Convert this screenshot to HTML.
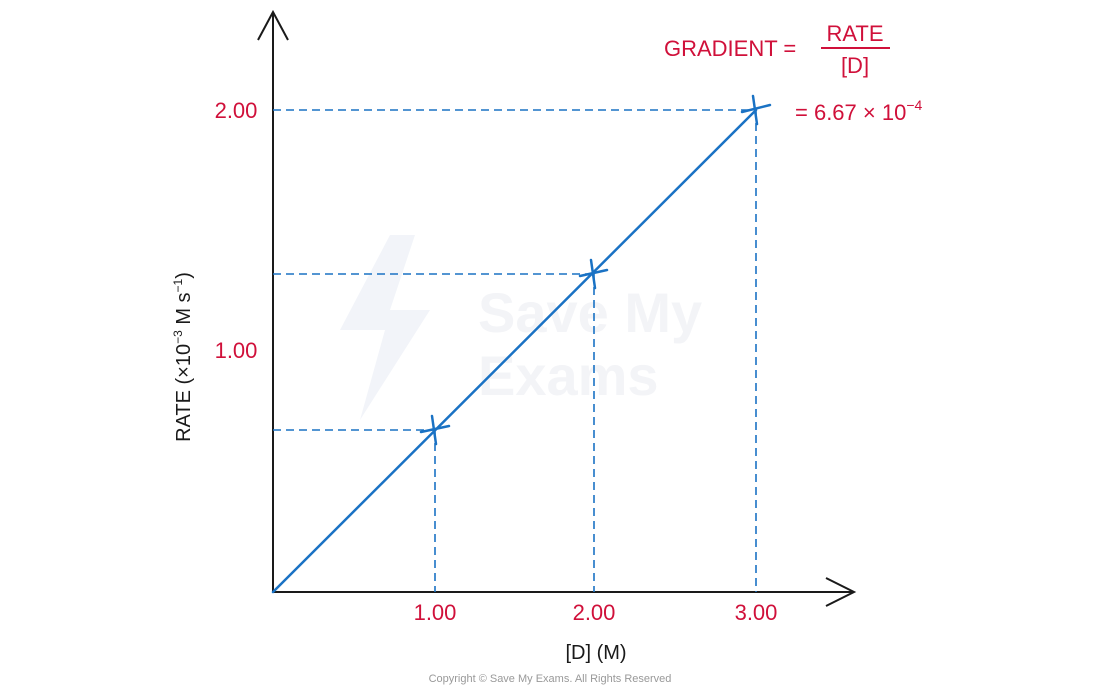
<!DOCTYPE html>
<html><head><style>
body{margin:0;background:#fff;width:1100px;height:689px;overflow:hidden}
svg{display:block}
text{font-family:"Liberation Sans",sans-serif}
</style></head><body>
<svg width="1100" height="689" viewBox="0 0 1100 689">
<g fill="#f3f4f7" font-size="56" font-weight="bold">
<text x="478" y="332">Save My</text><text x="478" y="395">Exams</text>
</g>
<polygon points="390,235 340,330 385,330 360,420 430,310 390,310 415,235" fill="#f2f4f9"/>
<g stroke="#1a1a1a" stroke-width="2" fill="none">
<line x1="273" y1="592" x2="273" y2="14"/>
<polyline points="258,40 273,12 288,40"/>
<line x1="273" y1="592" x2="852" y2="592"/>
<polyline points="826,578 854,592 826,606"/>
</g>
<g stroke="#1a72c4" stroke-width="1.6" stroke-dasharray="8,5" fill="none">
<line x1="273" y1="110" x2="756" y2="110"/>
<line x1="273" y1="274" x2="594" y2="274"/>
<line x1="273" y1="430" x2="435" y2="430"/>
<line x1="756" y1="110" x2="756" y2="592"/>
<line x1="594" y1="274" x2="594" y2="592"/>
<line x1="435" y1="430" x2="435" y2="592"/>
</g>
<g stroke="#1a72c4" stroke-width="2.5" fill="none" stroke-linecap="round">
<line x1="273" y1="592" x2="756" y2="110"/>
<line x1="742" y1="112" x2="770" y2="105"/><line x1="753" y1="96" x2="757" y2="124"/>
<line x1="580" y1="276" x2="607" y2="270"/><line x1="591" y1="260" x2="595" y2="288"/>
<line x1="421" y1="432" x2="449" y2="426"/><line x1="432" y1="416" x2="436" y2="444"/>
</g>
<g fill="#d0103a" font-size="22">
<text x="236" y="118" text-anchor="middle">2.00</text>
<text x="236" y="358" text-anchor="middle">1.00</text>
<text x="435" y="620" text-anchor="middle">1.00</text>
<text x="594" y="620" text-anchor="middle">2.00</text>
<text x="756" y="620" text-anchor="middle">3.00</text>
<text x="664" y="56">GRADIENT =</text>
<text x="855" y="41" text-anchor="middle">RATE</text>
<text x="855" y="73" text-anchor="middle">[D]</text>
<text x="795" y="120">= 6.67 × 10<tspan font-size="14" dy="-10">−4</tspan></text>
</g>
<line x1="821" y1="48" x2="890" y2="48" stroke="#d0103a" stroke-width="2"/>
<text x="596" y="659" font-size="20" text-anchor="middle" fill="#1a1a1a">[D] (M)</text>
<text transform="translate(190,357) rotate(-90)" font-size="20" text-anchor="middle" fill="#1a1a1a">RATE   (×10<tspan font-size="12" dy="-8">−3</tspan><tspan dy="8"> M s</tspan><tspan font-size="12" dy="-8">−1</tspan><tspan dy="8">)</tspan></text>
<text x="550" y="682" font-size="11" text-anchor="middle" fill="#999">Copyright © Save My Exams. All Rights Reserved</text>
</svg>
</body></html>
